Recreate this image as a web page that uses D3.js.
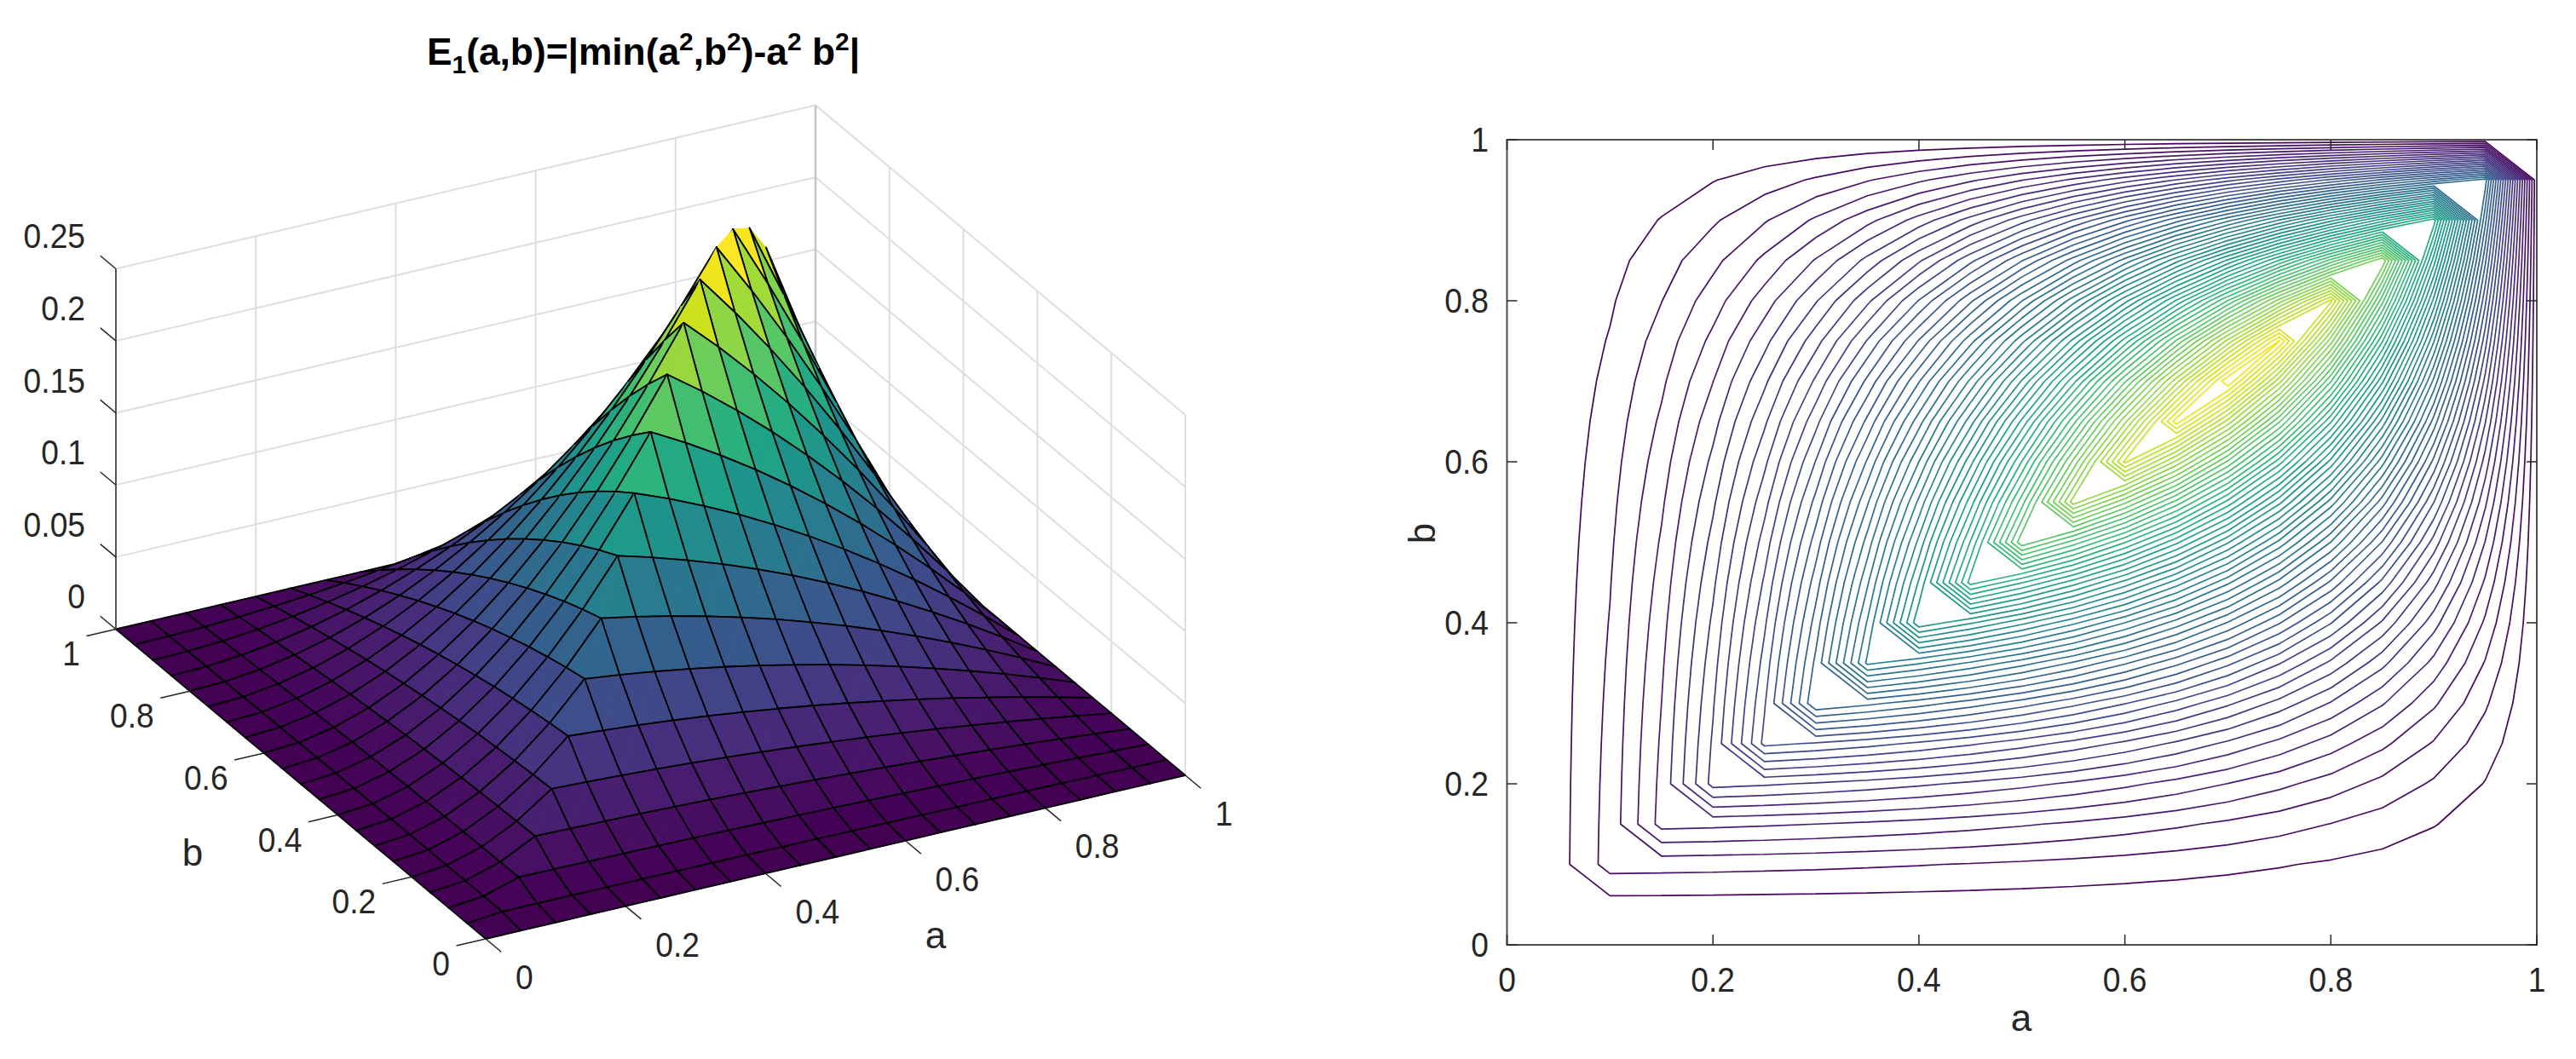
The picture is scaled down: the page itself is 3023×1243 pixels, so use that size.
<!DOCTYPE html>
<html><head><meta charset="utf-8">
<script src="https://cdn.jsdelivr.net/npm/d3@7"></script>
<style>html,body{margin:0;padding:0;background:#fff}svg{display:block}text{font-family:"Liberation Sans",Arial,sans-serif;fill:#262626}</style>
</head><body>
<svg id="c" width="3023" height="1243"></svg>
<script>
// grid coordinates
const gridA=[0,.05,.1,.15,.2,.25,.3,.35,.4,.45,.5,.55,.6,.65,.7,.75,.8,.85,.9,.95,1];
const gridB=gridA;
// E1 values; the surface is symmetric, row m holds the cells with index k<=m
const errorRows=[
[0],
[0,.00249],
[0,.00248,.0099],
[0,.00244,.00978,.02199],
[0,.0024,.0096,.0216,.0384],
[0,.00234,.00938,.02109,.0375,.05859],
[0,.00228,.0091,.02048,.0364,.05688,.0819],
[0,.00219,.00878,.01974,.0351,.05484,.07898,.10749],
[0,.0021,.0084,.0189,.0336,.0525,.0756,.1029,.1344],
[0,.00199,.00798,.01794,.0319,.04984,.07178,.09769,.1276,.16149],
[0,.00188,.0075,.01688,.03,.04688,.0675,.09188,.12,.15188,.1875],
[0,.00174,.00698,.01569,.0279,.04359,.06278,.08544,.1116,.14124,.17438,.21099],
[0,.0016,.0064,.0144,.0256,.04,.0576,.0784,.1024,.1296,.16,.1936,.2304],
[0,.00144,.00578,.01299,.0231,.03609,.05198,.07074,.0924,.11694,.14438,.17469,.2079,.24399],
[0,.00128,.0051,.01148,.0204,.03188,.0459,.06248,.0816,.10328,.1275,.15428,.1836,.21548,.2499],
[0,.00109,.00438,.00984,.0175,.02734,.03938,.05359,.07,.08859,.10938,.13234,.1575,.18484,.21438,.24609],
[0,.0009,.0036,.0081,.0144,.0225,.0324,.0441,.0576,.0729,.09,.1089,.1296,.1521,.1764,.2025,.2304],
[0,.00069,.00278,.00624,.0111,.01734,.02498,.03399,.0444,.05619,.06938,.08394,.0999,.11724,.13598,.15609,.1776,.2005],
[0,.00048,.0019,.00428,.0076,.01188,.0171,.02328,.0304,.03848,.0475,.05748,.0684,.08028,.0931,.10688,.1216,.13728,.1539],
[0,.00024,.00098,.00219,.0039,.00609,.00878,.01194,.0156,.01974,.02438,.02949,.0351,.04119,.04778,.05484,.0624,.07044,.07898,.08799],
[0,0,0,0,0,0,0,0,0,0,0,0,0,0,0,0,0,0,0,0,0]
];
const abTicks=[0,.2,.4,.6,.8,1];
const zTicks=[0,.05,.1,.15,.2,.25];
const zMax=.2499;
const levelCount=60;

const E=(i,j)=>errorRows[Math.max(i,j)][Math.min(i,j)];
const color=v=>d3.interpolateViridis(Math.min(1,v/zMax));
const svg=d3.select("#c");
const INK="#262626", GRID="#dedede";

/* ---------- left: surface in orthographic view ---------- */
const O=[570,1102];
const axA={x:d3.scaleLinear([0,1],[0,821]),y:d3.scaleLinear([0,1],[0,-192])};
const axB={x:d3.scaleLinear([0,1],[0,-434]),y:d3.scaleLinear([0,1],[0,-363.5])};
const axZ=d3.scaleLinear([0,.25],[0,-423]);
const P=(a,b,z)=>[O[0]+axA.x(a)+axB.x(b),O[1]+axA.y(a)+axB.y(b)+axZ(z)];
const seg=(g,p,q,st,w)=>g.append("line").attr("x1",p[0]).attr("y1",p[1]).attr("x2",q[0]).attr("y2",q[1]).attr("stroke",st).attr("stroke-width",w);

const L=svg.append("g");
const gridG=L.append("g");
zTicks.forEach(z=>{
  seg(gridG,P(0,1,z),P(1,1,z),GRID,2);
  seg(gridG,P(1,1,z),P(1,0,z),GRID,2);
});
abTicks.forEach(t=>{
  seg(gridG,P(t,1,0),P(t,1,.25),GRID,2);
  seg(gridG,P(1,t,0),P(1,t,.25),GRID,2);
});
seg(gridG,P(1,1,0),P(1,1,.25),"#c4c4c4",2.5);

const quads=[];
for(let i=19;i>=0;i--)for(let j=19;j>=0;j--)quads.push({i,j});
const lineGen=d3.line();
const V=(p,q)=>P(gridA[p],gridB[q],E(p,q));
const cells=L.append("g").selectAll("g").data(quads).join("g");
// each cell is folded along its diagonal: the far half first, the near half over it
const half=(sel,corners,open)=>{
  sel.append("path").attr("d",d=>lineGen(corners(d))+"Z")
    .attr("fill",d=>color(E(d.i,d.j))).attr("stroke",d=>color(E(d.i,d.j))).attr("stroke-width",.8);
  sel.append("path").attr("d",d=>lineGen(open(d))).attr("fill","none")
    .attr("stroke","#000").attr("stroke-width",1.8).attr("stroke-linejoin","round").attr("stroke-linecap","round");
};
half(cells,d=>[V(d.i,d.j),V(d.i+1,d.j+1),V(d.i,d.j+1)],d=>[V(d.i+1,d.j+1),V(d.i,d.j+1),V(d.i,d.j)]);
half(cells,d=>[V(d.i,d.j),V(d.i+1,d.j),V(d.i+1,d.j+1)],d=>[V(d.i,d.j),V(d.i+1,d.j),V(d.i+1,d.j+1)]);

// axis lines and ticks
seg(L,P(0,1,0),P(0,1,.25),"#555",2);
const tl=.042;
zTicks.forEach(z=>seg(L,P(0,1,z),P(0,1+tl,z),INK,1.5));
abTicks.forEach(t=>{
  seg(L,P(t,0,0),P(t,-tl,0),INK,1.5);
  seg(L,P(0,t,0),P(-tl,t,0),INK,1.5);
});
const FS=40;
const label=(g,x,y,s,anchor,rot)=>g.append("text")
  .attr("transform",`translate(${x},${y})${rot?" rotate(-90)":""} scale(.93,1)`)
  .attr("text-anchor",anchor).attr("dominant-baseline","central").attr("font-size",FS).text(s);
const fmt=d=>String(d);
zTicks.forEach(z=>{const p=P(0,1,z);label(L,100,p[1]-38,fmt(z),"end");});
abTicks.forEach(t=>{
  const p=P(0,t,0);label(L,p[0]-42,p[1]+29,fmt(t),"end");
  const q=P(t,0,0);label(L,q[0]+35,q[1]+45,fmt(t),"start");
});
const axisLabel=(g,x,y,s,rot)=>g.append("text")
  .attr("transform",`translate(${x},${y})${rot?" rotate(-90)":""}`)
  .attr("text-anchor","middle").attr("dominant-baseline","central").attr("font-size",44).text(s);
axisLabel(L,1098,1097,"a");
axisLabel(L,226,1000,"b");

// title
const title=L.append("text").attr("x",755).attr("y",76).attr("text-anchor","middle").attr("font-size",44.3).attr("font-weight","bold").style("fill","#000");
const parts=[["E",0],["1",10],["(a,b)=|min(a",-10],["2",-17],[",b",17],["2",-17],[")-a",17],["2",-17],[" b",17],["2",-17],["|",17]];
parts.forEach(([s,dy])=>{const t=title.append("tspan").text(s);if(dy)t.attr("dy",dy);if(s==="1"||s==="2")t.attr("font-size",30);});

/* ---------- right: contour lines ---------- */
const R=svg.append("g");
const x=d3.scaleLinear([0,1],[1768.5,2977]);
const y=d3.scaleLinear([0,1],[1109,164]);
const levels=d3.range(1,levelCount+1).map(k=>k*zMax/(levelCount+1));
const cross=(v0,v1,l)=>(l-v0)/(v1-v0);
levels.forEach(l=>{
  const ctx=d3.path();
  for(let i=0;i<20;i++)for(let j=0;j<20;j++){
    const a0=gridA[i],a1=gridA[i+1],b0=gridB[j],b1=gridB[j+1];
    const v00=E(i,j),v10=E(i+1,j),v11=E(i+1,j+1),v01=E(i,j+1);
    const pts={};
    if((v00>=l)!==(v10>=l)) pts.s=[a0+(a1-a0)*cross(v00,v10,l),b0];
    if((v10>=l)!==(v11>=l)) pts.e=[a1,b0+(b1-b0)*cross(v10,v11,l)];
    if((v01>=l)!==(v11>=l)) pts.n=[a0+(a1-a0)*cross(v01,v11,l),b1];
    if((v00>=l)!==(v01>=l)) pts.w=[a0,b0+(b1-b0)*cross(v00,v01,l)];
    const k=Object.keys(pts);
    let pairs=[];
    if(k.length===2) pairs=[[pts[k[0]],pts[k[1]]]];
    else if(k.length===4){
      // saddle: keep the ridge joined, cut off the two low corners
      if(v00>=l) pairs=[[pts.s,pts.e],[pts.w,pts.n]];
      else pairs=[[pts.s,pts.w],[pts.e,pts.n]];
    }
    pairs.forEach(([p,q])=>{ctx.moveTo(x(p[0]),y(p[1]));ctx.lineTo(x(q[0]),y(q[1]));});
  }
  R.append("path").attr("d",ctx.toString()).attr("fill","none").attr("stroke",color(l)).attr("stroke-width",1.7).attr("stroke-linecap","round");
});
// box and ticks
const AX="#4d4d4d";
R.append("rect").attr("x",x(0)).attr("y",y(1)).attr("width",x(1)-x(0)).attr("height",y(0)-y(1)).attr("fill","none").attr("stroke",AX).attr("stroke-width",2);
abTicks.forEach(t=>{
  seg(R,[x(t),y(0)],[x(t),y(0)-12],INK,1.5);
  seg(R,[x(t),y(1)],[x(t),y(1)+12],INK,1.5);
  seg(R,[x(0),y(t)],[x(0)+12,y(t)],INK,1.5);
  seg(R,[x(1),y(t)],[x(1)-12,y(t)],INK,1.5);
  label(R,x(t),1150,fmt(t),"middle");
  label(R,1747,y(t),fmt(t),"end");
});
axisLabel(R,2372,1194,"a");
axisLabel(R,1668,626,"b",true);
</script>
</body></html>
